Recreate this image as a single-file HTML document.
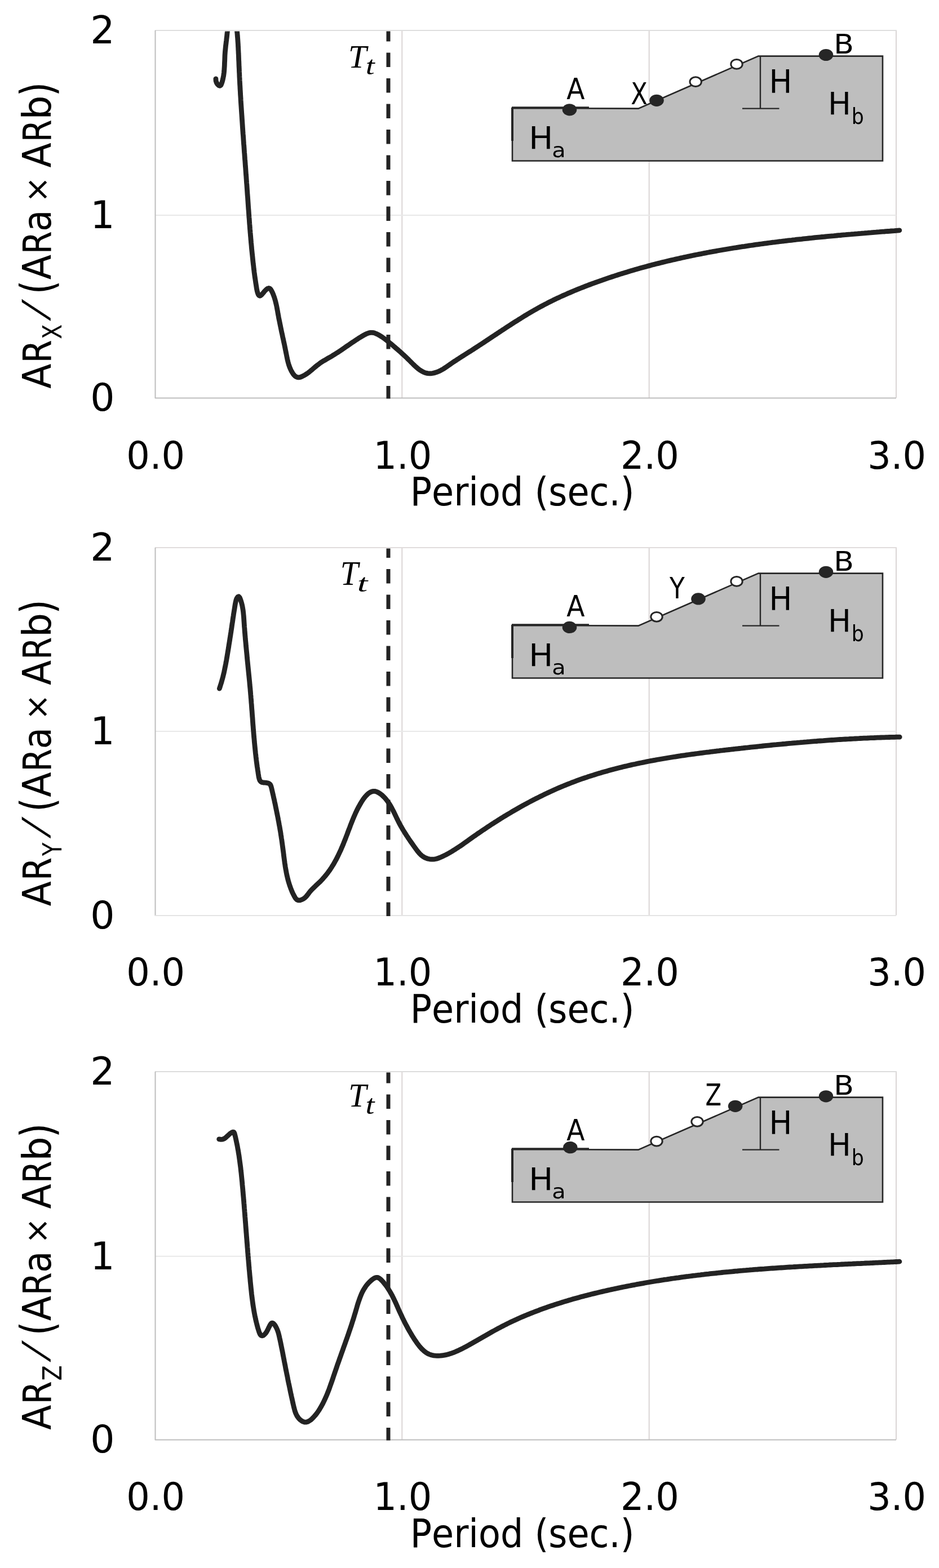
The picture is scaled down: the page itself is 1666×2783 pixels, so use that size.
<!DOCTYPE html>
<html><head><meta charset="utf-8"><title>Figure</title>
<style>html,body{margin:0;padding:0;background:#fff;}svg{display:block;}text{stroke:#000;stroke-width:0.1px;font-kerning:none;}g.ins text{stroke:none;}</style>
</head><body>
<svg width="1666" height="2783" viewBox="0 0 1666 2783" font-family="DejaVu Sans, Liberation Sans, sans-serif" fill="#000">
<defs>
<clipPath id="cp0"><rect x="245" y="55.5" width="1375" height="652.0"/></clipPath>
<clipPath id="cp1"><rect x="245" y="973.5" width="1375" height="652.5"/></clipPath>
<clipPath id="cp2"><rect x="245" y="1903.5" width="1375" height="653.0"/></clipPath>
</defs>
<rect width="1666" height="2783" fill="#fff"/>
<line x1="713.3" y1="54.0" x2="713.3" y2="706.0" stroke="#dad5d5" stroke-width="2"/>
<line x1="1151.7" y1="54.0" x2="1151.7" y2="706.0" stroke="#dad5d5" stroke-width="2"/>
<line x1="1590.0" y1="54.0" x2="1590.0" y2="706.0" stroke="#dad5d5" stroke-width="2"/>
<line x1="275" y1="54.0" x2="1591" y2="54.0" stroke="#dedede" stroke-width="2"/>
<line x1="275" y1="382.0" x2="1590" y2="382.0" stroke="#e8e8e8" stroke-width="2"/>
<line x1="275.5" y1="54.0" x2="275.5" y2="707.0" stroke="#bdbdbd" stroke-width="2"/>
<line x1="275" y1="706.5" x2="1590" y2="706.5" stroke="#bdbdbd" stroke-width="2"/>
<g class="ins" transform="translate(0,0)">
<polygon points="909,192 1132.6,192.6 1345.5,99.6 1566,99.6 1566,285.5 909,285.5" fill="#bebebe" stroke="#262626" stroke-width="2.6" stroke-linejoin="miter"/>
<line x1="908" y1="191" x2="1045" y2="191" stroke="#262626" stroke-width="3.5"/>
<line x1="909" y1="191" x2="909" y2="250" stroke="#262626" stroke-width="4"/>
<line x1="1349" y1="100" x2="1349" y2="192.6" stroke="#262626" stroke-width="2.4"/>
<line x1="1317" y1="192.6" x2="1382.5" y2="192.6" stroke="#262626" stroke-width="2.4"/>
<ellipse cx="1010.5" cy="194.8" rx="12.8" ry="10.6" fill="#262626"/>
<ellipse cx="1165.0" cy="178.3" rx="12.8" ry="10.6" fill="#262626"/>
<ellipse cx="1234.2" cy="145.2" rx="10.2" ry="8.4" fill="#fff" stroke="#262626" stroke-width="3"/>
<ellipse cx="1307.0" cy="113.9" rx="10.2" ry="8.4" fill="#fff" stroke="#262626" stroke-width="3"/>
<ellipse cx="1465.5" cy="97.5" rx="12.8" ry="10.6" fill="#262626"/>
<text x="1005.13" y="176.0" font-size="50.8" textLength="32.26" lengthAdjust="spacingAndGlyphs">A</text>
<text x="1119.22" y="184.5" font-size="52.8" textLength="29.53" lengthAdjust="spacingAndGlyphs">X</text>
<text x="1479.29" y="95.0" font-size="48.7" textLength="35.69" lengthAdjust="spacingAndGlyphs">B</text>
<text x="1364.47" y="165.0" font-size="57.6" textLength="40.87" lengthAdjust="spacingAndGlyphs">H</text>
<text x="938.28" y="263.5" font-size="55.6" textLength="43.03" lengthAdjust="spacingAndGlyphs">H</text>
<text x="1469.07" y="203.4" font-size="54.7" textLength="40.87" lengthAdjust="spacingAndGlyphs">H</text>
<text x="979.21" y="279.2" font-size="35.2" textLength="24.41" lengthAdjust="spacingAndGlyphs">a</text>
<text x="1510.84" y="219.8" font-size="39.9" textLength="22.06" lengthAdjust="spacingAndGlyphs">b</text>
</g>
<line x1="689" y1="48.0" x2="689" y2="710.0" stroke="#232323" stroke-width="7" stroke-dasharray="25.5 20" clip-path="url(#cp0)"/>
<path d="M382.9 139.9 L383.1 143.5 L384.3 147.0 L386.1 149.8 L388.2 151.7 L390.2 152.3 L391.8 151.3 L392.9 149.0 L393.9 146.3 L394.7 143.5 L395.4 140.6 L396.0 137.7 L396.6 134.8 L397.0 131.8 L397.4 128.8 L397.7 125.8 L397.9 122.7 L398.1 119.7 L398.3 116.6 L398.4 113.5 L398.5 110.5 L398.7 107.4 L398.8 104.3 L398.9 101.3 L399.0 98.2 L399.2 95.2 L399.4 92.2 L399.7 89.2 L400.0 86.2 L400.3 83.3 L400.6 80.3 L401.0 77.4 L401.3 74.5 L401.7 71.5 L402.0 68.6 L402.4 65.6 L402.7 62.6 L403.0 59.6 L403.3 56.6 L403.5 53.6 L403.7 50.6 L403.8 47.6 L403.9 44.6 L403.9 41.6 L404.0 38.6 L404.1 35.6 L404.3 32.5 L404.7 29.5 L405.3 26.4 L406.3 23.2 L407.6 20.0 L409.2 17.0 L410.9 14.6 L412.5 13.4 L413.7 13.7 L414.7 15.4 L415.4 18.0 L416.0 21.0 L416.5 24.2 L417.0 27.3 L417.5 30.4 L418.0 33.5 L418.4 36.6 L418.8 39.7 L419.2 42.8 L419.6 45.9 L419.9 48.9 L420.2 52.0 L420.5 55.0 L420.8 58.1 L421.1 61.1 L421.3 64.2 L421.6 67.2 L421.8 70.2 L422.0 73.3 L422.2 76.3 L422.4 79.3 L422.5 82.3 L422.7 85.3 L422.8 88.3 L423.0 91.3 L423.1 94.3 L423.3 97.3 L423.4 100.3 L423.5 103.3 L423.6 106.3 L423.8 109.3 L423.9 112.3 L424.0 115.3 L424.1 118.3 L424.3 121.3 L424.4 124.2 L424.5 127.2 L424.7 130.2 L424.8 133.2 L424.9 136.2 L425.1 139.2 L425.2 142.2 L425.4 145.2 L425.5 148.1 L425.7 151.1 L425.9 154.1 L426.0 157.1 L426.2 160.1 L426.4 163.1 L426.5 166.1 L426.7 169.1 L426.9 172.0 L427.1 175.0 L427.2 178.0 L427.4 181.0 L427.6 184.0 L427.8 187.0 L428.0 190.0 L428.2 193.0 L428.4 196.0 L428.6 199.0 L428.8 202.0 L429.0 204.9 L429.2 207.9 L429.4 210.9 L429.6 213.9 L429.8 216.9 L430.0 219.9 L430.2 222.9 L430.4 225.9 L430.6 228.9 L430.8 231.9 L431.0 234.9 L431.2 237.9 L431.5 240.9 L431.7 243.9 L431.9 246.9 L432.1 249.9 L432.3 252.9 L432.5 255.9 L432.8 258.9 L433.0 261.9 L433.2 264.9 L433.4 267.9 L433.6 270.9 L433.9 273.9 L434.1 276.9 L434.3 279.9 L434.5 282.9 L434.8 285.9 L435.0 288.9 L435.2 291.9 L435.4 295.0 L435.7 298.0 L435.9 301.0 L436.1 304.0 L436.3 307.0 L436.5 310.0 L436.8 313.0 L437.0 316.1 L437.2 319.1 L437.4 322.1 L437.6 325.1 L437.9 328.1 L438.1 331.2 L438.3 334.2 L438.5 337.2 L438.7 340.2 L438.9 343.2 L439.1 346.3 L439.4 349.3 L439.6 352.3 L439.8 355.4 L440.0 358.4 L440.2 361.4 L440.4 364.4 L440.6 367.4 L440.8 370.5 L441.1 373.5 L441.3 376.5 L441.5 379.5 L441.7 382.5 L441.9 385.6 L442.2 388.6 L442.4 391.6 L442.6 394.6 L442.8 397.6 L443.1 400.6 L443.3 403.6 L443.5 406.6 L443.8 409.6 L444.0 412.6 L444.3 415.6 L444.5 418.5 L444.8 421.5 L445.0 424.5 L445.3 427.5 L445.5 430.4 L445.8 433.4 L446.1 436.3 L446.3 439.3 L446.6 442.2 L446.9 445.2 L447.2 448.1 L447.5 451.0 L447.8 453.9 L448.1 456.8 L448.4 459.8 L448.7 462.7 L449.0 465.6 L449.3 468.4 L449.7 471.3 L450.0 474.2 L450.3 477.1 L450.7 479.9 L451.0 482.8 L451.4 485.7 L451.8 488.7 L452.2 491.8 L452.7 494.9 L453.2 498.2 L453.7 501.7 L454.3 505.4 L454.9 509.2 L455.5 513.1 L456.3 516.8 L457.2 520.1 L458.3 522.8 L459.6 524.5 L461.1 525.1 L462.8 524.4 L464.8 522.5 L467.0 519.9 L469.3 517.0 L471.9 514.4 L474.3 512.4 L476.7 511.5 L478.7 512.0 L480.5 513.9 L482.0 516.5 L483.4 519.3 L484.6 522.1 L485.7 525.0 L486.7 527.8 L487.6 530.7 L488.5 533.7 L489.2 536.6 L489.9 539.5 L490.6 542.5 L491.2 545.5 L491.7 548.4 L492.3 551.4 L492.8 554.4 L493.3 557.4 L493.9 560.3 L494.4 563.3 L495.0 566.3 L495.6 569.2 L496.2 572.2 L496.8 575.1 L497.4 578.0 L498.0 581.0 L498.6 583.9 L499.2 586.8 L499.8 589.8 L500.5 592.7 L501.1 595.6 L501.7 598.5 L502.4 601.5 L503.0 604.4 L503.6 607.3 L504.3 610.3 L504.9 613.2 L505.5 616.2 L506.1 619.1 L506.7 622.1 L507.3 625.0 L507.9 628.0 L508.5 631.0 L509.1 634.0 L509.7 636.9 L510.4 639.9 L511.1 642.8 L511.9 645.7 L512.8 648.6 L513.8 651.4 L514.9 654.2 L516.2 657.0 L517.6 659.6 L519.2 662.3 L520.9 664.7 L522.9 666.9 L525.0 668.5 L527.4 669.6 L530.1 669.9 L533.0 669.4 L536.0 668.2 L538.9 666.7 L541.8 665.0 L544.4 663.3 L547.0 661.5 L549.4 659.6 L551.7 657.7 L554.0 655.8 L556.3 653.8 L558.5 651.9 L560.8 650.0 L563.0 648.2 L565.4 646.4 L567.7 644.6 L570.2 642.9 L572.8 641.3 L575.3 639.8 L578.0 638.3 L580.6 636.7 L583.3 635.2 L585.9 633.7 L588.5 632.2 L591.1 630.6 L593.7 629.0 L596.2 627.4 L598.8 625.8 L601.3 624.1 L603.8 622.5 L606.2 620.8 L608.7 619.1 L611.2 617.4 L613.6 615.7 L616.1 614.0 L618.6 612.3 L621.0 610.6 L623.5 608.9 L626.0 607.2 L628.5 605.6 L631.0 603.9 L633.5 602.3 L636.0 600.6 L638.6 599.0 L641.2 597.4 L643.8 595.9 L646.4 594.4 L649.1 593.0 L651.8 591.8 L654.5 590.9 L657.3 590.4 L660.2 590.3 L663.1 590.7 L666.0 591.7 L668.9 592.9 L671.8 594.4 L674.5 596.0 L677.2 597.7 L679.8 599.5 L682.3 601.3 L684.8 603.1 L687.2 605.0 L689.5 606.9 L691.8 608.8 L694.1 610.7 L696.4 612.6 L698.6 614.5 L700.8 616.4 L703.0 618.3 L705.2 620.2 L707.4 622.1 L709.6 624.0 L711.8 626.0 L713.9 627.9 L716.1 629.9 L718.3 632.0 L720.5 634.0 L722.7 636.2 L724.9 638.3 L727.1 640.5 L729.4 642.8 L731.6 645.0 L733.9 647.3 L736.2 649.5 L738.6 651.6 L741.0 653.7 L743.4 655.6 L745.9 657.3 L748.4 658.9 L750.9 660.2 L753.5 661.3 L756.2 662.2 L758.9 662.7 L761.7 662.9 L764.5 662.9 L767.4 662.5 L770.3 661.9 L773.1 661.1 L775.9 660.1 L778.7 659.0 L781.5 657.6 L784.1 656.2 L786.7 654.7 L789.3 653.0 L791.8 651.3 L794.3 649.6 L796.8 647.9 L799.3 646.1 L801.8 644.4 L804.3 642.7 L806.8 641.0 L809.4 639.4 L811.9 637.7 L814.4 636.1 L816.9 634.4 L819.5 632.8 L822.0 631.2 L824.5 629.6 L827.1 628.0 L829.6 626.4 L832.1 624.8 L834.7 623.2 L837.2 621.6 L839.7 620.0 L842.2 618.3 L844.7 616.7 L847.3 615.1 L849.8 613.4 L852.3 611.8 L854.8 610.1 L857.3 608.5 L859.8 606.8 L862.3 605.2 L864.8 603.5 L867.3 601.8 L869.8 600.2 L872.3 598.5 L874.8 596.8 L877.4 595.2 L879.9 593.5 L882.4 591.8 L884.9 590.2 L887.4 588.5 L889.9 586.9 L892.4 585.2 L894.9 583.6 L897.4 581.9 L899.9 580.3 L902.5 578.6 L905.0 577.0 L907.5 575.3 L910.0 573.7 L912.6 572.1 L915.1 570.5 L917.7 568.9 L920.2 567.3 L922.8 565.7 L925.3 564.1 L927.9 562.5 L930.4 560.9 L933.0 559.4 L935.6 557.8 L938.2 556.3 L940.7 554.8 L943.3 553.2 L945.9 551.7 L948.5 550.2 L951.2 548.8 L953.8 547.3 L956.4 545.8 L959.0 544.4 L961.7 543.0 L964.3 541.6 L967.0 540.2 L969.7 538.8 L972.3 537.4 L975.0 536.0 L977.7 534.7 L980.4 533.4 L983.1 532.0 L985.8 530.7 L988.5 529.4 L991.3 528.2 L994.0 526.9 L996.7 525.6 L999.5 524.4 L1002.2 523.2 L1005.0 522.0 L1007.7 520.7 L1010.5 519.6 L1013.3 518.4 L1016.0 517.2 L1018.8 516.0 L1021.6 514.9 L1024.4 513.7 L1027.2 512.6 L1030.0 511.5 L1032.8 510.4 L1035.6 509.3 L1038.4 508.2 L1041.2 507.1 L1044.0 506.0 L1046.8 505.0 L1049.7 503.9 L1052.5 502.9 L1055.3 501.9 L1058.1 500.8 L1061.0 499.8 L1063.8 498.8 L1066.7 497.8 L1069.5 496.8 L1072.3 495.8 L1075.2 494.8 L1078.0 493.9 L1080.9 492.9 L1083.7 492.0 L1086.6 491.0 L1089.4 490.1 L1092.3 489.1 L1095.2 488.2 L1098.0 487.3 L1100.9 486.4 L1103.8 485.5 L1106.6 484.6 L1109.5 483.7 L1112.4 482.9 L1115.2 482.0 L1118.1 481.1 L1121.0 480.3 L1123.9 479.4 L1126.8 478.6 L1129.6 477.8 L1132.5 476.9 L1135.4 476.1 L1138.3 475.3 L1141.2 474.5 L1144.1 473.7 L1147.0 472.9 L1149.9 472.1 L1152.8 471.4 L1155.7 470.6 L1158.6 469.8 L1161.5 469.1 L1164.4 468.3 L1167.3 467.6 L1170.2 466.9 L1173.2 466.1 L1176.1 465.4 L1179.0 464.7 L1181.9 464.0 L1184.8 463.3 L1187.8 462.6 L1190.7 461.9 L1193.6 461.2 L1196.5 460.6 L1199.5 459.9 L1202.4 459.2 L1205.3 458.6 L1208.3 457.9 L1211.2 457.3 L1214.1 456.6 L1217.1 456.0 L1220.0 455.4 L1222.9 454.7 L1225.9 454.1 L1228.8 453.5 L1231.8 452.9 L1234.7 452.3 L1237.7 451.7 L1240.6 451.1 L1243.6 450.6 L1246.5 450.0 L1249.5 449.4 L1252.4 448.9 L1255.4 448.3 L1258.3 447.7 L1261.3 447.2 L1264.2 446.6 L1267.2 446.1 L1270.2 445.6 L1273.1 445.0 L1276.1 444.5 L1279.1 444.0 L1282.0 443.5 L1285.0 443.0 L1288.0 442.5 L1290.9 442.0 L1293.9 441.5 L1296.9 441.0 L1299.8 440.5 L1302.8 440.0 L1305.8 439.6 L1308.8 439.1 L1311.7 438.6 L1314.7 438.2 L1317.7 437.7 L1320.7 437.3 L1323.6 436.8 L1326.6 436.4 L1329.6 435.9 L1332.6 435.5 L1335.6 435.1 L1338.5 434.6 L1341.5 434.2 L1344.5 433.8 L1347.5 433.4 L1350.5 433.0 L1353.5 432.6 L1356.5 432.2 L1359.4 431.8 L1362.4 431.4 L1365.4 431.0 L1368.4 430.6 L1371.4 430.2 L1374.4 429.9 L1377.4 429.5 L1380.4 429.1 L1383.4 428.7 L1386.4 428.4 L1389.3 428.0 L1392.3 427.7 L1395.3 427.3 L1398.3 426.9 L1401.3 426.6 L1404.3 426.3 L1407.3 425.9 L1410.3 425.6 L1413.3 425.2 L1416.3 424.9 L1419.3 424.6 L1422.3 424.3 L1425.3 423.9 L1428.3 423.6 L1431.3 423.3 L1434.3 423.0 L1437.3 422.7 L1440.3 422.4 L1443.3 422.0 L1446.3 421.7 L1449.3 421.4 L1452.2 421.1 L1455.2 420.8 L1458.2 420.5 L1461.2 420.3 L1464.2 420.0 L1467.2 419.7 L1470.2 419.4 L1473.2 419.1 L1476.2 418.8 L1479.2 418.6 L1482.2 418.3 L1485.2 418.0 L1488.2 417.7 L1491.2 417.5 L1494.2 417.2 L1497.2 416.9 L1500.2 416.7 L1503.2 416.4 L1506.2 416.1 L1509.2 415.9 L1512.2 415.6 L1515.2 415.4 L1518.2 415.1 L1521.2 414.9 L1524.2 414.6 L1527.2 414.4 L1530.1 414.1 L1533.1 413.9 L1536.1 413.6 L1539.1 413.4 L1542.1 413.1 L1545.1 412.9 L1548.1 412.6 L1551.1 412.4 L1554.1 412.2 L1557.1 411.9 L1560.0 411.7 L1563.0 411.4 L1566.0 411.2 L1569.0 411.0 L1572.0 410.7 L1575.0 410.5 L1578.0 410.3 L1580.9 410.0 L1583.9 409.8 L1586.9 409.6 L1589.9 409.3 L1592.9 409.1 L1595.8 408.9" fill="none" stroke="#232323" stroke-width="8.8" stroke-linejoin="round" stroke-linecap="round" clip-path="url(#cp0)"/>
<text x="203.5" y="77.0" font-size="68" text-anchor="end">2</text>
<text x="203.5" y="405.0" font-size="68" text-anchor="end">1</text>
<text x="203.5" y="729.0" font-size="68" text-anchor="end">0</text>
<text x="276.2" y="831.5" font-size="68" text-anchor="middle" textLength="103.8" lengthAdjust="spacingAndGlyphs">0.0</text>
<text x="714.5" y="831.5" font-size="68" text-anchor="middle" textLength="103.8" lengthAdjust="spacingAndGlyphs">1.0</text>
<text x="1152.9" y="831.5" font-size="68" text-anchor="middle" textLength="103.8" lengthAdjust="spacingAndGlyphs">2.0</text>
<text x="1591.2" y="831.5" font-size="68" text-anchor="middle" textLength="103.8" lengthAdjust="spacingAndGlyphs">3.0</text>
<text x="727.7" y="897.0" font-size="68.6" textLength="397.9" lengthAdjust="spacingAndGlyphs">Period (sec.)</text>
<g transform="translate(90.0,689.2) rotate(-90)">
<text x="-0.50" y="0.0" font-size="70.0" textLength="44.14" lengthAdjust="spacingAndGlyphs">A</text>
<text x="44.59" y="0.0" font-size="70.0" textLength="41.11" lengthAdjust="spacingAndGlyphs">R</text>
<text x="87.47" y="19.4" font-size="47.0" textLength="25.91" lengthAdjust="spacingAndGlyphs">X</text>
<g transform="translate(121.42,-5.6) skewX(-19.37)"><text x="0" y="0" font-size="62.0">/</text></g>
<text x="166.99" y="4.2" font-size="79.4" textLength="24.54" lengthAdjust="spacingAndGlyphs">(</text>
<text x="192.89" y="0.0" font-size="70.0" textLength="44.24" lengthAdjust="spacingAndGlyphs">A</text>
<text x="238.03" y="0.0" font-size="70.0" textLength="40.87" lengthAdjust="spacingAndGlyphs">R</text>
<text x="278.47" y="0.0" font-size="70.0" textLength="38.07" lengthAdjust="spacingAndGlyphs">a</text>
<text x="329.21" y="-5.1" font-size="57.0" textLength="46.95" lengthAdjust="spacingAndGlyphs">×</text>
<text x="391.70" y="0.0" font-size="70.0" textLength="44.04" lengthAdjust="spacingAndGlyphs">A</text>
<text x="436.85" y="0.0" font-size="70.0" textLength="40.01" lengthAdjust="spacingAndGlyphs">R</text>
<text x="477.01" y="0.0" font-size="70.0" textLength="42.55" lengthAdjust="spacingAndGlyphs">b</text>
<text x="517.95" y="4.2" font-size="79.4" textLength="25.59" lengthAdjust="spacingAndGlyphs">)</text>
</g>
<text x="617.99" y="119.9" font-family="Liberation Serif, serif" font-style="italic" style="stroke:none" font-size="58.0" textLength="32.37" lengthAdjust="spacingAndGlyphs">T</text>
<text x="648.77" y="131.5" font-family="Liberation Serif, serif" font-style="italic" style="stroke:none" font-size="45.6" textLength="15.98" lengthAdjust="spacingAndGlyphs">t</text>
<line x1="713.3" y1="972.0" x2="713.3" y2="1624.5" stroke="#dad5d5" stroke-width="2"/>
<line x1="1151.7" y1="972.0" x2="1151.7" y2="1624.5" stroke="#dad5d5" stroke-width="2"/>
<line x1="1590.0" y1="972.0" x2="1590.0" y2="1624.5" stroke="#dad5d5" stroke-width="2"/>
<line x1="275" y1="972.0" x2="1591" y2="972.0" stroke="#e0dcdc" stroke-width="2"/>
<line x1="275" y1="1298.0" x2="1590" y2="1298.0" stroke="#e8e8e8" stroke-width="2"/>
<line x1="275.5" y1="972.0" x2="275.5" y2="1625.5" stroke="#bdbdbd" stroke-width="2"/>
<line x1="275" y1="1625.0" x2="1590" y2="1625.0" stroke="#e4e4e4" stroke-width="2"/>
<g class="ins" transform="translate(0,918)">
<polygon points="909,192 1132.6,192.6 1345.5,99.6 1566,99.6 1566,285.5 909,285.5" fill="#bebebe" stroke="#262626" stroke-width="2.6" stroke-linejoin="miter"/>
<line x1="908" y1="191" x2="1045" y2="191" stroke="#262626" stroke-width="3.5"/>
<line x1="909" y1="191" x2="909" y2="250" stroke="#262626" stroke-width="4"/>
<line x1="1349" y1="100" x2="1349" y2="192.6" stroke="#262626" stroke-width="2.4"/>
<line x1="1317" y1="192.6" x2="1382.5" y2="192.6" stroke="#262626" stroke-width="2.4"/>
<ellipse cx="1010.5" cy="195.4" rx="12.8" ry="10.6" fill="#262626"/>
<ellipse cx="1165.0" cy="176.8" rx="10.2" ry="8.4" fill="#fff" stroke="#262626" stroke-width="3"/>
<ellipse cx="1239.0" cy="144.9" rx="12.8" ry="10.6" fill="#262626"/>
<ellipse cx="1307.0" cy="113.9" rx="10.2" ry="8.4" fill="#fff" stroke="#262626" stroke-width="3"/>
<ellipse cx="1465.5" cy="97.3" rx="12.8" ry="10.6" fill="#262626"/>
<text x="1005.13" y="176.0" font-size="50.8" textLength="32.26" lengthAdjust="spacingAndGlyphs">A</text>
<text x="1187.89" y="144.0" font-size="52.3" textLength="26.83" lengthAdjust="spacingAndGlyphs">Y</text>
<text x="1479.29" y="95.0" font-size="48.7" textLength="35.69" lengthAdjust="spacingAndGlyphs">B</text>
<text x="1364.47" y="165.0" font-size="57.6" textLength="40.87" lengthAdjust="spacingAndGlyphs">H</text>
<text x="938.28" y="263.5" font-size="55.6" textLength="43.03" lengthAdjust="spacingAndGlyphs">H</text>
<text x="1469.07" y="203.4" font-size="54.7" textLength="40.87" lengthAdjust="spacingAndGlyphs">H</text>
<text x="979.21" y="279.2" font-size="35.2" textLength="24.41" lengthAdjust="spacingAndGlyphs">a</text>
<text x="1510.84" y="219.8" font-size="39.9" textLength="22.06" lengthAdjust="spacingAndGlyphs">b</text>
</g>
<line x1="689" y1="964.5" x2="689" y2="1628.5" stroke="#232323" stroke-width="7" stroke-dasharray="25.5 20" clip-path="url(#cp1)"/>
<path d="M389.3 1222.1 L390.3 1219.2 L391.2 1216.3 L392.1 1213.5 L393.0 1210.6 L393.8 1207.7 L394.6 1204.8 L395.4 1201.9 L396.1 1199.0 L396.8 1196.1 L397.5 1193.2 L398.1 1190.3 L398.7 1187.3 L399.3 1184.4 L399.9 1181.5 L400.5 1178.5 L401.0 1175.6 L401.6 1172.6 L402.1 1169.7 L402.6 1166.7 L403.1 1163.7 L403.6 1160.8 L404.1 1157.8 L404.6 1154.8 L405.1 1151.8 L405.6 1148.8 L406.0 1145.8 L406.5 1142.8 L407.0 1139.8 L407.5 1136.8 L407.9 1133.8 L408.4 1130.8 L408.9 1127.8 L409.3 1124.8 L409.8 1121.9 L410.2 1118.9 L410.7 1116.0 L411.1 1113.1 L411.5 1110.2 L411.9 1107.3 L412.4 1104.4 L412.8 1101.6 L413.2 1098.7 L413.6 1095.8 L414.1 1092.9 L414.5 1089.9 L415.0 1086.9 L415.5 1083.8 L416.0 1080.7 L416.5 1077.5 L417.0 1074.2 L417.6 1070.8 L418.3 1067.5 L419.1 1064.3 L420.3 1061.6 L421.8 1059.5 L423.5 1058.7 L425.0 1060.1 L426.1 1062.6 L427.1 1065.3 L428.0 1068.1 L428.8 1070.9 L429.5 1073.7 L430.1 1076.6 L430.6 1079.5 L431.1 1082.4 L431.5 1085.4 L431.8 1088.4 L432.1 1091.4 L432.4 1094.4 L432.6 1097.4 L432.8 1100.4 L433.0 1103.5 L433.2 1106.5 L433.4 1109.6 L433.6 1112.6 L433.9 1115.6 L434.1 1118.7 L434.3 1121.7 L434.6 1124.7 L434.8 1127.7 L435.1 1130.7 L435.3 1133.8 L435.6 1136.8 L435.9 1139.8 L436.2 1142.8 L436.4 1145.8 L436.7 1148.8 L437.0 1151.8 L437.3 1154.8 L437.6 1157.8 L437.9 1160.8 L438.2 1163.8 L438.4 1166.8 L438.7 1169.8 L439.0 1172.8 L439.3 1175.8 L439.6 1178.7 L439.9 1181.7 L440.2 1184.7 L440.5 1187.7 L440.8 1190.7 L441.1 1193.7 L441.4 1196.7 L441.7 1199.6 L442.0 1202.6 L442.3 1205.6 L442.6 1208.6 L442.9 1211.6 L443.1 1214.5 L443.4 1217.5 L443.7 1220.5 L444.0 1223.5 L444.2 1226.5 L444.5 1229.5 L444.7 1232.4 L445.0 1235.4 L445.2 1238.4 L445.5 1241.4 L445.7 1244.4 L445.9 1247.4 L446.2 1250.4 L446.4 1253.3 L446.6 1256.3 L446.8 1259.3 L447.1 1262.3 L447.3 1265.3 L447.5 1268.3 L447.7 1271.3 L448.0 1274.3 L448.2 1277.3 L448.4 1280.3 L448.6 1283.3 L448.8 1286.2 L449.1 1289.2 L449.3 1292.2 L449.5 1295.2 L449.8 1298.2 L450.0 1301.2 L450.3 1304.2 L450.5 1307.2 L450.8 1310.2 L451.1 1313.2 L451.3 1316.2 L451.6 1319.2 L451.9 1322.2 L452.2 1325.2 L452.5 1328.2 L452.8 1331.3 L453.1 1334.3 L453.4 1337.3 L453.8 1340.3 L454.1 1343.3 L454.5 1346.3 L454.8 1349.3 L455.2 1352.3 L455.6 1355.3 L456.0 1358.3 L456.4 1361.4 L456.9 1364.4 L457.3 1367.4 L457.8 1370.4 L458.2 1373.4 L458.7 1376.5 L459.2 1379.5 L459.9 1382.3 L460.8 1384.9 L462.3 1387.0 L464.4 1388.4 L467.3 1389.0 L470.5 1389.2 L473.5 1389.5 L476.2 1390.1 L478.4 1391.3 L480.0 1393.3 L481.0 1395.9 L481.8 1398.8 L482.5 1401.9 L483.2 1404.9 L483.9 1407.9 L484.6 1411.0 L485.2 1414.0 L485.9 1417.0 L486.6 1419.9 L487.2 1422.9 L487.9 1425.9 L488.5 1428.9 L489.1 1431.8 L489.7 1434.8 L490.3 1437.7 L490.9 1440.7 L491.5 1443.6 L492.1 1446.5 L492.7 1449.5 L493.3 1452.4 L493.8 1455.3 L494.4 1458.3 L494.9 1461.2 L495.4 1464.1 L496.0 1467.0 L496.5 1470.0 L497.0 1472.9 L497.5 1475.8 L498.0 1478.8 L498.4 1481.7 L498.9 1484.7 L499.3 1487.6 L499.8 1490.6 L500.2 1493.5 L500.6 1496.5 L501.0 1499.5 L501.4 1502.4 L501.8 1505.4 L502.2 1508.4 L502.6 1511.4 L503.0 1514.4 L503.3 1517.4 L503.7 1520.4 L504.1 1523.4 L504.5 1526.4 L504.9 1529.4 L505.3 1532.4 L505.8 1535.4 L506.2 1538.4 L506.7 1541.4 L507.3 1544.4 L507.8 1547.4 L508.4 1550.3 L509.0 1553.3 L509.7 1556.2 L510.4 1559.1 L511.1 1562.0 L511.9 1564.9 L512.8 1567.8 L513.7 1570.7 L514.7 1573.5 L515.7 1576.3 L516.8 1579.1 L517.9 1581.9 L519.1 1584.6 L520.4 1587.3 L521.8 1590.0 L523.3 1592.7 L524.9 1595.1 L526.9 1596.9 L529.3 1597.9 L532.3 1597.8 L535.6 1596.7 L538.7 1595.1 L541.2 1593.2 L543.3 1591.1 L545.1 1588.9 L546.9 1586.6 L548.6 1584.2 L550.4 1582.0 L552.4 1579.8 L554.5 1577.6 L556.7 1575.5 L558.9 1573.4 L561.1 1571.2 L563.4 1569.1 L565.6 1567.0 L567.9 1564.9 L570.0 1562.7 L572.1 1560.5 L574.1 1558.2 L576.1 1555.9 L578.0 1553.6 L579.9 1551.3 L581.7 1548.9 L583.4 1546.5 L585.2 1544.1 L586.8 1541.6 L588.5 1539.1 L590.0 1536.6 L591.6 1534.1 L593.1 1531.5 L594.5 1528.9 L596.0 1526.3 L597.4 1523.7 L598.7 1521.0 L600.0 1518.3 L601.3 1515.6 L602.6 1512.9 L603.9 1510.2 L605.1 1507.4 L606.3 1504.6 L607.5 1501.9 L608.7 1499.1 L609.8 1496.2 L610.9 1493.4 L612.1 1490.6 L613.2 1487.7 L614.3 1484.8 L615.4 1482.0 L616.5 1479.1 L617.5 1476.3 L618.6 1473.4 L619.7 1470.6 L620.8 1467.8 L621.8 1464.9 L622.9 1462.2 L624.0 1459.4 L625.1 1456.6 L626.2 1453.9 L627.3 1451.3 L628.4 1448.6 L629.6 1446.0 L630.7 1443.4 L631.9 1440.9 L633.1 1438.3 L634.4 1435.7 L635.8 1433.0 L637.3 1430.3 L638.9 1427.5 L640.5 1424.7 L642.3 1421.8 L644.2 1418.9 L646.2 1416.2 L648.3 1413.6 L650.5 1411.2 L652.7 1409.1 L655.1 1407.3 L657.5 1405.9 L659.9 1404.9 L662.4 1404.4 L665.0 1404.4 L667.6 1405.0 L670.2 1406.1 L672.8 1407.6 L675.4 1409.4 L677.8 1411.3 L680.1 1413.5 L682.3 1415.6 L684.3 1417.9 L686.2 1420.3 L688.0 1422.7 L689.7 1425.2 L691.4 1427.7 L692.9 1430.3 L694.4 1432.9 L695.8 1435.5 L697.2 1438.2 L698.6 1440.9 L699.9 1443.6 L701.2 1446.4 L702.5 1449.1 L703.8 1451.8 L705.1 1454.5 L706.4 1457.2 L707.8 1459.9 L709.2 1462.6 L710.6 1465.2 L712.1 1467.8 L713.6 1470.4 L715.1 1473.0 L716.7 1475.5 L718.3 1478.1 L719.9 1480.6 L721.5 1483.1 L723.2 1485.6 L724.8 1488.1 L726.5 1490.6 L728.2 1493.1 L730.0 1495.6 L731.7 1498.0 L733.4 1500.5 L735.2 1503.0 L737.0 1505.5 L738.8 1508.0 L740.6 1510.4 L742.5 1512.7 L744.5 1515.0 L746.6 1517.1 L748.8 1519.0 L751.2 1520.7 L753.7 1522.1 L756.5 1523.3 L759.3 1524.2 L762.3 1524.8 L765.4 1525.1 L768.4 1525.1 L771.5 1524.8 L774.5 1524.2 L777.4 1523.3 L780.2 1522.2 L783.0 1521.0 L785.8 1519.7 L788.5 1518.4 L791.2 1517.1 L793.8 1515.7 L796.4 1514.2 L799.0 1512.7 L801.6 1511.2 L804.2 1509.6 L806.7 1508.1 L809.2 1506.4 L811.7 1504.8 L814.2 1503.1 L816.7 1501.5 L819.2 1499.8 L821.6 1498.1 L824.1 1496.3 L826.5 1494.6 L829.0 1492.9 L831.4 1491.1 L833.8 1489.4 L836.3 1487.6 L838.7 1485.9 L841.2 1484.2 L843.7 1482.5 L846.1 1480.7 L848.6 1479.0 L851.1 1477.3 L853.6 1475.6 L856.1 1473.9 L858.6 1472.3 L861.1 1470.6 L863.6 1468.9 L866.1 1467.2 L868.6 1465.6 L871.1 1463.9 L873.6 1462.3 L876.2 1460.7 L878.7 1459.0 L881.3 1457.4 L883.8 1455.8 L886.3 1454.2 L888.9 1452.6 L891.5 1451.0 L894.0 1449.4 L896.6 1447.9 L899.2 1446.3 L901.8 1444.7 L904.4 1443.2 L906.9 1441.7 L909.5 1440.1 L912.1 1438.6 L914.8 1437.1 L917.4 1435.6 L920.0 1434.1 L922.6 1432.6 L925.2 1431.2 L927.9 1429.7 L930.5 1428.2 L933.1 1426.8 L935.8 1425.4 L938.4 1424.0 L941.1 1422.5 L943.8 1421.1 L946.4 1419.8 L949.1 1418.4 L951.8 1417.0 L954.5 1415.7 L957.2 1414.3 L959.9 1413.0 L962.6 1411.7 L965.3 1410.3 L968.0 1409.0 L970.7 1407.8 L973.4 1406.5 L976.1 1405.2 L978.8 1404.0 L981.6 1402.7 L984.3 1401.5 L987.1 1400.3 L989.8 1399.1 L992.6 1397.9 L995.3 1396.7 L998.1 1395.6 L1000.8 1394.4 L1003.6 1393.3 L1006.4 1392.2 L1009.2 1391.1 L1012.0 1390.0 L1014.7 1388.9 L1017.5 1387.8 L1020.3 1386.8 L1023.2 1385.7 L1026.0 1384.7 L1028.8 1383.7 L1031.6 1382.7 L1034.4 1381.7 L1037.2 1380.8 L1040.1 1379.8 L1042.9 1378.8 L1045.8 1377.9 L1048.6 1377.0 L1051.5 1376.1 L1054.3 1375.2 L1057.2 1374.3 L1060.0 1373.4 L1062.9 1372.5 L1065.8 1371.7 L1068.6 1370.8 L1071.5 1370.0 L1074.4 1369.2 L1077.3 1368.4 L1080.2 1367.6 L1083.0 1366.8 L1085.9 1366.0 L1088.8 1365.2 L1091.7 1364.5 L1094.6 1363.7 L1097.5 1363.0 L1100.5 1362.3 L1103.4 1361.6 L1106.3 1360.8 L1109.2 1360.1 L1112.1 1359.5 L1115.0 1358.8 L1118.0 1358.1 L1120.9 1357.4 L1123.8 1356.8 L1126.8 1356.2 L1129.7 1355.5 L1132.7 1354.9 L1135.6 1354.3 L1138.5 1353.7 L1141.5 1353.1 L1144.4 1352.5 L1147.4 1351.9 L1150.3 1351.3 L1153.3 1350.7 L1156.3 1350.2 L1159.2 1349.6 L1162.2 1349.1 L1165.1 1348.5 L1168.1 1348.0 L1171.1 1347.5 L1174.1 1347.0 L1177.0 1346.5 L1180.0 1346.0 L1183.0 1345.5 L1185.9 1345.0 L1188.9 1344.5 L1191.9 1344.0 L1194.9 1343.5 L1197.9 1343.1 L1200.8 1342.6 L1203.8 1342.1 L1206.8 1341.7 L1209.8 1341.2 L1212.8 1340.8 L1215.8 1340.4 L1218.8 1339.9 L1221.8 1339.5 L1224.7 1339.1 L1227.7 1338.7 L1230.7 1338.3 L1233.7 1337.9 L1236.7 1337.5 L1239.7 1337.1 L1242.7 1336.7 L1245.7 1336.3 L1248.7 1335.9 L1251.7 1335.5 L1254.7 1335.1 L1257.7 1334.8 L1260.7 1334.4 L1263.7 1334.0 L1266.7 1333.7 L1269.7 1333.3 L1272.7 1332.9 L1275.7 1332.6 L1278.7 1332.2 L1281.6 1331.9 L1284.6 1331.5 L1287.6 1331.2 L1290.6 1330.8 L1293.6 1330.5 L1296.6 1330.2 L1299.6 1329.8 L1302.6 1329.5 L1305.6 1329.1 L1308.6 1328.8 L1311.6 1328.5 L1314.6 1328.2 L1317.5 1327.8 L1320.5 1327.5 L1323.5 1327.2 L1326.5 1326.9 L1329.5 1326.5 L1332.5 1326.2 L1335.5 1325.9 L1338.5 1325.6 L1341.4 1325.3 L1344.4 1325.0 L1347.4 1324.6 L1350.4 1324.3 L1353.4 1324.0 L1356.4 1323.7 L1359.3 1323.4 L1362.3 1323.1 L1365.3 1322.8 L1368.3 1322.5 L1371.3 1322.2 L1374.2 1321.9 L1377.2 1321.7 L1380.2 1321.4 L1383.2 1321.1 L1386.2 1320.8 L1389.2 1320.5 L1392.1 1320.3 L1395.1 1320.0 L1398.1 1319.7 L1401.1 1319.4 L1404.1 1319.2 L1407.0 1318.9 L1410.0 1318.6 L1413.0 1318.4 L1416.0 1318.1 L1419.0 1317.9 L1422.0 1317.6 L1424.9 1317.4 L1427.9 1317.1 L1430.9 1316.9 L1433.9 1316.6 L1436.9 1316.4 L1439.9 1316.1 L1442.8 1315.9 L1445.8 1315.7 L1448.8 1315.5 L1451.8 1315.2 L1454.8 1315.0 L1457.8 1314.8 L1460.8 1314.6 L1463.8 1314.3 L1466.7 1314.1 L1469.7 1313.9 L1472.7 1313.7 L1475.7 1313.5 L1478.7 1313.3 L1481.7 1313.1 L1484.7 1312.9 L1487.7 1312.7 L1490.7 1312.5 L1493.7 1312.4 L1496.7 1312.2 L1499.7 1312.0 L1502.7 1311.8 L1505.7 1311.7 L1508.7 1311.5 L1511.7 1311.3 L1514.7 1311.2 L1517.7 1311.0 L1520.7 1310.8 L1523.7 1310.7 L1526.7 1310.5 L1529.7 1310.4 L1532.7 1310.2 L1535.7 1310.1 L1538.7 1310.0 L1541.7 1309.8 L1544.7 1309.7 L1547.7 1309.6 L1550.8 1309.5 L1553.8 1309.3 L1556.8 1309.2 L1559.8 1309.1 L1562.8 1309.0 L1565.9 1308.9 L1568.9 1308.8 L1571.9 1308.7 L1574.9 1308.6 L1578.0 1308.5 L1581.0 1308.4 L1584.0 1308.4 L1587.0 1308.3 L1590.1 1308.2 L1593.1 1308.1 L1596.2 1308.1" fill="none" stroke="#232323" stroke-width="8.8" stroke-linejoin="round" stroke-linecap="round" clip-path="url(#cp1)"/>
<text x="203.5" y="995.0" font-size="68" text-anchor="end">2</text>
<text x="203.5" y="1321.0" font-size="68" text-anchor="end">1</text>
<text x="203.5" y="1647.5" font-size="68" text-anchor="end">0</text>
<text x="276.2" y="1749.0" font-size="68" text-anchor="middle" textLength="103.8" lengthAdjust="spacingAndGlyphs">0.0</text>
<text x="714.5" y="1749.0" font-size="68" text-anchor="middle" textLength="103.8" lengthAdjust="spacingAndGlyphs">1.0</text>
<text x="1152.9" y="1749.0" font-size="68" text-anchor="middle" textLength="103.8" lengthAdjust="spacingAndGlyphs">2.0</text>
<text x="1591.2" y="1749.0" font-size="68" text-anchor="middle" textLength="103.8" lengthAdjust="spacingAndGlyphs">3.0</text>
<text x="727.7" y="1814.5" font-size="68.6" textLength="397.9" lengthAdjust="spacingAndGlyphs">Period (sec.)</text>
<g transform="translate(90.0,1607.7) rotate(-90)">
<text x="-0.50" y="0.0" font-size="70.0" textLength="44.14" lengthAdjust="spacingAndGlyphs">A</text>
<text x="44.59" y="0.0" font-size="70.0" textLength="41.11" lengthAdjust="spacingAndGlyphs">R</text>
<text x="88.67" y="19.4" font-size="47.0" textLength="23.45" lengthAdjust="spacingAndGlyphs">Y</text>
<g transform="translate(121.42,-5.6) skewX(-19.37)"><text x="0" y="0" font-size="62.0">/</text></g>
<text x="166.99" y="4.2" font-size="79.4" textLength="24.54" lengthAdjust="spacingAndGlyphs">(</text>
<text x="192.89" y="0.0" font-size="70.0" textLength="44.24" lengthAdjust="spacingAndGlyphs">A</text>
<text x="238.03" y="0.0" font-size="70.0" textLength="40.87" lengthAdjust="spacingAndGlyphs">R</text>
<text x="278.47" y="0.0" font-size="70.0" textLength="38.07" lengthAdjust="spacingAndGlyphs">a</text>
<text x="329.21" y="-5.1" font-size="57.0" textLength="46.95" lengthAdjust="spacingAndGlyphs">×</text>
<text x="391.70" y="0.0" font-size="70.0" textLength="44.04" lengthAdjust="spacingAndGlyphs">A</text>
<text x="436.85" y="0.0" font-size="70.0" textLength="40.01" lengthAdjust="spacingAndGlyphs">R</text>
<text x="477.01" y="0.0" font-size="70.0" textLength="42.55" lengthAdjust="spacingAndGlyphs">b</text>
<text x="517.95" y="4.2" font-size="79.4" textLength="25.59" lengthAdjust="spacingAndGlyphs">)</text>
</g>
<text x="603.75" y="1038.3" font-family="Liberation Serif, serif" font-style="italic" style="stroke:none" font-size="61.7" textLength="31.86" lengthAdjust="spacingAndGlyphs">T</text>
<text x="633.66" y="1049.5" font-family="Liberation Serif, serif" font-style="italic" style="stroke:none" font-size="44.9" textLength="18.60" lengthAdjust="spacingAndGlyphs">t</text>
<line x1="713.3" y1="1902.0" x2="713.3" y2="2555.0" stroke="#dad5d5" stroke-width="2"/>
<line x1="1151.7" y1="1902.0" x2="1151.7" y2="2555.0" stroke="#dad5d5" stroke-width="2"/>
<line x1="1590.0" y1="1902.0" x2="1590.0" y2="2555.0" stroke="#dad5d5" stroke-width="2"/>
<line x1="275" y1="1902.0" x2="1591" y2="1902.0" stroke="#dcdcdc" stroke-width="2"/>
<line x1="275" y1="2229.7" x2="1590" y2="2229.7" stroke="#e8e8e8" stroke-width="2"/>
<line x1="275.5" y1="1902.0" x2="275.5" y2="2556.0" stroke="#bdbdbd" stroke-width="2"/>
<line x1="275" y1="2555.5" x2="1590" y2="2555.5" stroke="#bdbdbd" stroke-width="2"/>
<g class="ins" transform="translate(0,1848)">
<polygon points="909,192 1132.6,192.6 1345.5,99.6 1566,99.6 1566,285.5 909,285.5" fill="#bebebe" stroke="#262626" stroke-width="2.6" stroke-linejoin="miter"/>
<line x1="908" y1="191" x2="1045" y2="191" stroke="#262626" stroke-width="3.5"/>
<line x1="909" y1="191" x2="909" y2="250" stroke="#262626" stroke-width="4"/>
<line x1="1349" y1="100" x2="1349" y2="192.6" stroke="#262626" stroke-width="2.4"/>
<line x1="1317" y1="192.6" x2="1382.5" y2="192.6" stroke="#262626" stroke-width="2.4"/>
<ellipse cx="1011.8" cy="188.7" rx="12.8" ry="10.6" fill="#262626"/>
<ellipse cx="1165.0" cy="177.6" rx="10.2" ry="8.4" fill="#fff" stroke="#262626" stroke-width="3"/>
<ellipse cx="1237.0" cy="142.8" rx="10.2" ry="8.4" fill="#fff" stroke="#262626" stroke-width="3"/>
<ellipse cx="1304.6" cy="115.3" rx="12.8" ry="10.6" fill="#262626"/>
<ellipse cx="1465.5" cy="97.8" rx="12.8" ry="10.6" fill="#262626"/>
<text x="1005.13" y="176.0" font-size="50.8" textLength="32.26" lengthAdjust="spacingAndGlyphs">A</text>
<text x="1251.43" y="113.5" font-size="52.9" textLength="28.54" lengthAdjust="spacingAndGlyphs">Z</text>
<text x="1479.29" y="95.0" font-size="48.7" textLength="35.69" lengthAdjust="spacingAndGlyphs">B</text>
<text x="1364.47" y="165.0" font-size="57.6" textLength="40.87" lengthAdjust="spacingAndGlyphs">H</text>
<text x="938.28" y="263.5" font-size="55.6" textLength="43.03" lengthAdjust="spacingAndGlyphs">H</text>
<text x="1469.07" y="203.4" font-size="54.7" textLength="40.87" lengthAdjust="spacingAndGlyphs">H</text>
<text x="979.21" y="279.2" font-size="35.2" textLength="24.41" lengthAdjust="spacingAndGlyphs">a</text>
<text x="1510.84" y="219.8" font-size="39.9" textLength="22.06" lengthAdjust="spacingAndGlyphs">b</text>
</g>
<line x1="689" y1="1897.0" x2="689" y2="2559.0" stroke="#232323" stroke-width="7" stroke-dasharray="25.5 20" clip-path="url(#cp2)"/>
<path d="M388.7 2021.9 L392.0 2022.4 L394.9 2022.2 L397.4 2021.2 L399.7 2019.7 L402.1 2017.6 L404.7 2015.2 L407.5 2012.6 L410.4 2010.4 L413.0 2009.1 L414.9 2009.3 L416.0 2011.3 L416.7 2014.1 L417.4 2016.9 L418.1 2019.8 L418.7 2022.6 L419.3 2025.5 L419.9 2028.3 L420.5 2031.2 L421.1 2034.1 L421.6 2037.0 L422.1 2039.9 L422.7 2042.8 L423.1 2045.8 L423.6 2048.7 L424.1 2051.6 L424.5 2054.6 L424.9 2057.5 L425.3 2060.5 L425.7 2063.5 L426.1 2066.4 L426.5 2069.4 L426.9 2072.4 L427.2 2075.4 L427.5 2078.4 L427.9 2081.4 L428.2 2084.4 L428.5 2087.4 L428.8 2090.4 L429.1 2093.4 L429.4 2096.4 L429.7 2099.4 L429.9 2102.4 L430.2 2105.4 L430.5 2108.4 L430.8 2111.5 L431.0 2114.5 L431.3 2117.5 L431.5 2120.5 L431.8 2123.5 L432.1 2126.5 L432.3 2129.5 L432.6 2132.5 L432.8 2135.6 L433.1 2138.6 L433.3 2141.6 L433.5 2144.6 L433.8 2147.6 L434.0 2150.6 L434.3 2153.6 L434.5 2156.6 L434.7 2159.6 L435.0 2162.6 L435.2 2165.6 L435.4 2168.7 L435.7 2171.7 L435.9 2174.7 L436.1 2177.7 L436.4 2180.7 L436.6 2183.7 L436.8 2186.7 L437.1 2189.7 L437.3 2192.7 L437.5 2195.7 L437.8 2198.7 L438.0 2201.7 L438.2 2204.7 L438.5 2207.7 L438.7 2210.7 L438.9 2213.6 L439.2 2216.6 L439.4 2219.6 L439.6 2222.6 L439.9 2225.6 L440.1 2228.6 L440.4 2231.6 L440.6 2234.6 L440.9 2237.5 L441.1 2240.5 L441.4 2243.5 L441.6 2246.5 L441.9 2249.4 L442.1 2252.4 L442.4 2255.4 L442.7 2258.4 L442.9 2261.3 L443.2 2264.3 L443.5 2267.3 L443.8 2270.2 L444.0 2273.2 L444.3 2276.1 L444.6 2279.1 L444.9 2282.0 L445.2 2285.0 L445.5 2288.0 L445.8 2290.9 L446.1 2293.8 L446.4 2296.8 L446.8 2299.8 L447.1 2302.7 L447.5 2305.7 L447.9 2308.6 L448.3 2311.6 L448.7 2314.6 L449.1 2317.6 L449.6 2320.5 L450.1 2323.5 L450.6 2326.6 L451.1 2329.6 L451.7 2332.6 L452.3 2335.7 L453.0 2338.7 L453.6 2341.8 L454.3 2344.9 L455.1 2348.0 L455.9 2351.1 L456.7 2354.3 L457.6 2357.5 L458.6 2360.6 L459.6 2363.8 L460.7 2366.6 L461.9 2368.9 L463.4 2370.4 L465.1 2370.9 L467.1 2370.3 L469.2 2368.6 L471.4 2366.2 L473.4 2363.2 L475.3 2359.7 L476.9 2356.2 L478.5 2353.0 L480.0 2350.3 L481.6 2348.6 L483.4 2348.1 L485.2 2349.1 L487.2 2351.2 L489.0 2354.0 L490.7 2357.3 L492.1 2360.5 L493.2 2363.5 L494.1 2366.5 L494.8 2369.3 L495.5 2372.1 L496.1 2375.0 L496.8 2377.9 L497.4 2380.8 L498.0 2383.7 L498.6 2386.6 L499.2 2389.6 L499.8 2392.5 L500.4 2395.5 L501.0 2398.4 L501.6 2401.4 L502.1 2404.4 L502.7 2407.3 L503.3 2410.3 L503.9 2413.3 L504.4 2416.3 L505.0 2419.2 L505.6 2422.2 L506.2 2425.1 L506.7 2428.1 L507.3 2431.0 L507.9 2433.9 L508.5 2436.9 L509.1 2439.8 L509.7 2442.7 L510.3 2445.7 L510.8 2448.6 L511.4 2451.5 L512.0 2454.4 L512.7 2457.4 L513.3 2460.3 L513.9 2463.2 L514.5 2466.2 L515.1 2469.1 L515.7 2472.0 L516.4 2475.0 L517.0 2477.9 L517.7 2480.9 L518.3 2483.8 L519.0 2486.8 L519.6 2489.8 L520.3 2492.8 L521.0 2495.8 L521.7 2498.7 L522.5 2501.7 L523.3 2504.6 L524.3 2507.4 L525.5 2510.1 L526.8 2512.8 L528.4 2515.2 L530.2 2517.6 L532.4 2519.7 L534.8 2521.6 L537.4 2523.1 L540.2 2524.0 L543.0 2524.1 L545.7 2523.5 L548.4 2522.1 L551.1 2520.4 L553.6 2518.2 L555.9 2515.9 L558.1 2513.4 L560.2 2511.0 L562.1 2508.6 L563.8 2506.1 L565.5 2503.6 L567.1 2501.1 L568.6 2498.6 L570.1 2496.0 L571.5 2493.4 L572.9 2490.8 L574.2 2488.1 L575.5 2485.5 L576.8 2482.7 L578.0 2480.0 L579.2 2477.3 L580.4 2474.5 L581.5 2471.7 L582.6 2468.9 L583.7 2466.1 L584.7 2463.3 L585.7 2460.4 L586.7 2457.6 L587.7 2454.7 L588.7 2451.9 L589.7 2449.0 L590.7 2446.2 L591.6 2443.3 L592.6 2440.4 L593.6 2437.6 L594.5 2434.7 L595.5 2431.9 L596.5 2429.0 L597.5 2426.2 L598.4 2423.3 L599.4 2420.5 L600.4 2417.7 L601.4 2414.9 L602.4 2412.0 L603.4 2409.2 L604.4 2406.4 L605.4 2403.6 L606.4 2400.8 L607.4 2398.0 L608.4 2395.2 L609.4 2392.3 L610.4 2389.5 L611.4 2386.7 L612.4 2383.9 L613.4 2381.1 L614.4 2378.3 L615.4 2375.5 L616.4 2372.6 L617.4 2369.8 L618.4 2367.0 L619.3 2364.1 L620.3 2361.3 L621.3 2358.4 L622.2 2355.6 L623.2 2352.7 L624.1 2349.9 L625.0 2347.0 L625.9 2344.1 L626.9 2341.2 L627.8 2338.3 L628.6 2335.4 L629.5 2332.5 L630.4 2329.6 L631.3 2326.6 L632.1 2323.7 L633.0 2320.7 L633.8 2317.8 L634.7 2314.9 L635.6 2312.0 L636.6 2309.1 L637.6 2306.2 L638.6 2303.4 L639.7 2300.6 L640.8 2297.8 L642.0 2295.1 L643.3 2292.4 L644.7 2289.8 L646.2 2287.3 L647.8 2284.8 L649.4 2282.4 L651.2 2280.1 L653.2 2277.8 L655.2 2275.7 L657.4 2273.6 L659.7 2271.6 L662.2 2269.8 L664.8 2268.2 L667.4 2267.3 L670.0 2267.4 L672.5 2268.5 L674.9 2270.3 L677.2 2272.5 L679.4 2274.9 L681.5 2277.4 L683.5 2279.9 L685.4 2282.5 L687.2 2285.0 L688.9 2287.6 L690.5 2290.2 L692.1 2292.8 L693.6 2295.5 L695.1 2298.1 L696.5 2300.8 L697.8 2303.5 L699.1 2306.2 L700.4 2308.9 L701.7 2311.6 L702.9 2314.3 L704.1 2317.1 L705.3 2319.8 L706.5 2322.5 L707.7 2325.2 L708.9 2327.9 L710.2 2330.6 L711.4 2333.2 L712.7 2335.9 L713.9 2338.6 L715.2 2341.2 L716.5 2343.9 L717.8 2346.5 L719.2 2349.2 L720.6 2351.8 L722.0 2354.4 L723.4 2357.1 L724.8 2359.7 L726.3 2362.3 L727.8 2364.9 L729.4 2367.6 L730.9 2370.2 L732.6 2372.8 L734.2 2375.4 L735.9 2378.0 L737.7 2380.6 L739.5 2383.2 L741.3 2385.7 L743.2 2388.2 L745.2 2390.6 L747.2 2392.9 L749.3 2395.1 L751.5 2397.1 L753.8 2399.0 L756.1 2400.7 L758.6 2402.2 L761.2 2403.5 L763.8 2404.5 L766.6 2405.3 L769.5 2405.9 L772.4 2406.2 L775.4 2406.4 L778.4 2406.3 L781.4 2406.2 L784.4 2405.8 L787.4 2405.4 L790.3 2404.9 L793.2 2404.2 L796.1 2403.4 L798.9 2402.6 L801.8 2401.6 L804.6 2400.6 L807.4 2399.5 L810.1 2398.3 L812.9 2397.1 L815.6 2395.8 L818.3 2394.5 L821.1 2393.1 L823.8 2391.7 L826.4 2390.3 L829.1 2388.8 L831.8 2387.4 L834.4 2385.9 L837.1 2384.4 L839.7 2382.9 L842.3 2381.4 L845.0 2379.9 L847.6 2378.4 L850.2 2376.9 L852.8 2375.4 L855.4 2373.9 L858.0 2372.4 L860.7 2370.9 L863.3 2369.4 L865.9 2367.9 L868.5 2366.4 L871.1 2364.9 L873.7 2363.4 L876.3 2362.0 L879.0 2360.5 L881.6 2359.1 L884.2 2357.7 L886.9 2356.3 L889.5 2354.9 L892.2 2353.5 L894.9 2352.1 L897.6 2350.8 L900.2 2349.4 L902.9 2348.1 L905.6 2346.8 L908.3 2345.5 L911.0 2344.3 L913.8 2343.0 L916.5 2341.8 L919.2 2340.5 L922.0 2339.3 L924.7 2338.1 L927.5 2336.9 L930.2 2335.7 L933.0 2334.6 L935.7 2333.4 L938.5 2332.3 L941.3 2331.2 L944.1 2330.1 L946.9 2329.0 L949.7 2327.9 L952.5 2326.8 L955.3 2325.8 L958.1 2324.7 L960.9 2323.7 L963.7 2322.7 L966.6 2321.6 L969.4 2320.7 L972.2 2319.7 L975.1 2318.7 L977.9 2317.7 L980.8 2316.8 L983.6 2315.8 L986.5 2314.9 L989.3 2314.0 L992.2 2313.1 L995.1 2312.2 L997.9 2311.3 L1000.8 2310.4 L1003.7 2309.5 L1006.6 2308.7 L1009.4 2307.8 L1012.3 2307.0 L1015.2 2306.1 L1018.1 2305.3 L1021.0 2304.5 L1023.9 2303.7 L1026.8 2302.9 L1029.7 2302.1 L1032.6 2301.3 L1035.5 2300.6 L1038.4 2299.8 L1041.4 2299.1 L1044.3 2298.3 L1047.2 2297.6 L1050.1 2296.8 L1053.0 2296.1 L1055.9 2295.4 L1058.9 2294.7 L1061.8 2294.0 L1064.7 2293.3 L1067.7 2292.6 L1070.6 2291.9 L1073.5 2291.3 L1076.4 2290.6 L1079.4 2289.9 L1082.3 2289.3 L1085.2 2288.6 L1088.2 2288.0 L1091.1 2287.4 L1094.1 2286.7 L1097.0 2286.1 L1099.9 2285.5 L1102.9 2284.9 L1105.8 2284.3 L1108.8 2283.7 L1111.7 2283.1 L1114.7 2282.5 L1117.6 2282.0 L1120.5 2281.4 L1123.5 2280.8 L1126.4 2280.3 L1129.4 2279.7 L1132.3 2279.2 L1135.3 2278.6 L1138.3 2278.1 L1141.2 2277.6 L1144.2 2277.0 L1147.1 2276.5 L1150.1 2276.0 L1153.0 2275.5 L1156.0 2275.0 L1159.0 2274.5 L1161.9 2274.0 L1164.9 2273.5 L1167.9 2273.1 L1170.8 2272.6 L1173.8 2272.1 L1176.7 2271.7 L1179.7 2271.2 L1182.7 2270.8 L1185.7 2270.3 L1188.6 2269.9 L1191.6 2269.4 L1194.6 2269.0 L1197.5 2268.6 L1200.5 2268.2 L1203.5 2267.8 L1206.5 2267.3 L1209.4 2266.9 L1212.4 2266.5 L1215.4 2266.1 L1218.4 2265.7 L1221.3 2265.4 L1224.3 2265.0 L1227.3 2264.6 L1230.3 2264.2 L1233.3 2263.9 L1236.2 2263.5 L1239.2 2263.1 L1242.2 2262.8 L1245.2 2262.4 L1248.2 2262.1 L1251.2 2261.7 L1254.1 2261.4 L1257.1 2261.1 L1260.1 2260.7 L1263.1 2260.4 L1266.1 2260.1 L1269.1 2259.8 L1272.1 2259.5 L1275.1 2259.1 L1278.1 2258.8 L1281.0 2258.5 L1284.0 2258.2 L1287.0 2257.9 L1290.0 2257.6 L1293.0 2257.4 L1296.0 2257.1 L1299.0 2256.8 L1302.0 2256.5 L1305.0 2256.2 L1308.0 2256.0 L1311.0 2255.7 L1314.0 2255.4 L1317.0 2255.2 L1320.0 2254.9 L1323.0 2254.7 L1326.0 2254.4 L1328.9 2254.2 L1331.9 2253.9 L1334.9 2253.7 L1337.9 2253.4 L1340.9 2253.2 L1343.9 2253.0 L1346.9 2252.7 L1349.9 2252.5 L1352.9 2252.3 L1355.9 2252.1 L1358.9 2251.8 L1361.9 2251.6 L1364.9 2251.4 L1367.9 2251.2 L1370.9 2251.0 L1373.9 2250.8 L1376.9 2250.6 L1379.9 2250.4 L1383.0 2250.2 L1386.0 2250.0 L1389.0 2249.8 L1392.0 2249.6 L1395.0 2249.4 L1398.0 2249.2 L1401.0 2249.0 L1404.0 2248.8 L1407.0 2248.7 L1410.0 2248.5 L1413.0 2248.3 L1416.0 2248.1 L1419.0 2247.9 L1422.0 2247.8 L1425.0 2247.6 L1428.0 2247.4 L1431.0 2247.3 L1434.0 2247.1 L1437.0 2246.9 L1440.0 2246.8 L1443.0 2246.6 L1446.0 2246.4 L1449.0 2246.3 L1452.0 2246.1 L1455.0 2246.0 L1458.0 2245.8 L1461.0 2245.7 L1464.0 2245.5 L1467.0 2245.3 L1470.0 2245.2 L1473.0 2245.0 L1476.0 2244.9 L1479.0 2244.7 L1482.0 2244.6 L1485.0 2244.5 L1488.0 2244.3 L1491.0 2244.2 L1494.0 2244.0 L1497.0 2243.9 L1500.0 2243.7 L1503.0 2243.6 L1506.0 2243.4 L1509.0 2243.3 L1512.0 2243.2 L1515.0 2243.0 L1518.0 2242.9 L1521.0 2242.7 L1524.0 2242.6 L1527.0 2242.5 L1530.0 2242.3 L1533.0 2242.2 L1536.0 2242.0 L1539.0 2241.9 L1542.0 2241.8 L1545.0 2241.6 L1548.0 2241.5 L1551.0 2241.3 L1554.0 2241.2 L1557.0 2241.1 L1560.0 2240.9 L1563.0 2240.8 L1566.0 2240.6 L1569.0 2240.5 L1572.0 2240.4 L1575.0 2240.2 L1578.0 2240.1 L1580.9 2239.9 L1583.9 2239.8 L1586.9 2239.6 L1589.9 2239.5 L1592.9 2239.4 L1595.9 2239.2" fill="none" stroke="#232323" stroke-width="8.8" stroke-linejoin="round" stroke-linecap="round" clip-path="url(#cp2)"/>
<text x="203.5" y="1925.0" font-size="68" text-anchor="end">2</text>
<text x="203.5" y="2252.7" font-size="68" text-anchor="end">1</text>
<text x="203.5" y="2578.0" font-size="68" text-anchor="end">0</text>
<text x="276.2" y="2680.0" font-size="68" text-anchor="middle" textLength="103.8" lengthAdjust="spacingAndGlyphs">0.0</text>
<text x="714.5" y="2680.0" font-size="68" text-anchor="middle" textLength="103.8" lengthAdjust="spacingAndGlyphs">1.0</text>
<text x="1152.9" y="2680.0" font-size="68" text-anchor="middle" textLength="103.8" lengthAdjust="spacingAndGlyphs">2.0</text>
<text x="1591.2" y="2680.0" font-size="68" text-anchor="middle" textLength="103.8" lengthAdjust="spacingAndGlyphs">3.0</text>
<text x="727.7" y="2745.5" font-size="68.6" textLength="397.9" lengthAdjust="spacingAndGlyphs">Period (sec.)</text>
<g transform="translate(90.0,2537.2) rotate(-90)">
<text x="-0.50" y="0.0" font-size="70.0" textLength="44.14" lengthAdjust="spacingAndGlyphs">A</text>
<text x="44.59" y="0.0" font-size="70.0" textLength="41.11" lengthAdjust="spacingAndGlyphs">R</text>
<text x="86.82" y="19.4" font-size="47.0" textLength="27.16" lengthAdjust="spacingAndGlyphs">Z</text>
<g transform="translate(121.42,-5.6) skewX(-19.37)"><text x="0" y="0" font-size="62.0">/</text></g>
<text x="166.99" y="4.2" font-size="79.4" textLength="24.54" lengthAdjust="spacingAndGlyphs">(</text>
<text x="192.89" y="0.0" font-size="70.0" textLength="44.24" lengthAdjust="spacingAndGlyphs">A</text>
<text x="238.03" y="0.0" font-size="70.0" textLength="40.87" lengthAdjust="spacingAndGlyphs">R</text>
<text x="278.47" y="0.0" font-size="70.0" textLength="38.07" lengthAdjust="spacingAndGlyphs">a</text>
<text x="329.21" y="-5.1" font-size="57.0" textLength="46.95" lengthAdjust="spacingAndGlyphs">×</text>
<text x="391.70" y="0.0" font-size="70.0" textLength="44.04" lengthAdjust="spacingAndGlyphs">A</text>
<text x="436.85" y="0.0" font-size="70.0" textLength="40.01" lengthAdjust="spacingAndGlyphs">R</text>
<text x="477.01" y="0.0" font-size="70.0" textLength="42.55" lengthAdjust="spacingAndGlyphs">b</text>
<text x="517.95" y="4.2" font-size="79.4" textLength="25.59" lengthAdjust="spacingAndGlyphs">)</text>
</g>
<text x="618.24" y="1963.6" font-family="Liberation Serif, serif" font-style="italic" style="stroke:none" font-size="58.6" textLength="31.96" lengthAdjust="spacingAndGlyphs">T</text>
<text x="648.57" y="1976.8" font-family="Liberation Serif, serif" font-style="italic" style="stroke:none" font-size="48.7" textLength="15.98" lengthAdjust="spacingAndGlyphs">t</text>
</svg>
</body></html>
